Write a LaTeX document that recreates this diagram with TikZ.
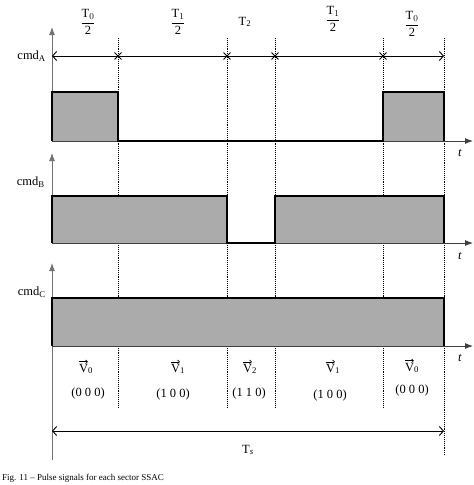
\documentclass[tikz,border=0pt]{standalone}
\usepackage{amsmath}
\usepackage{fontspec}
\setmainfont{Liberation Serif}
\usetikzlibrary{arrows.meta,shapes.misc}

\begin{document}
\begin{tikzpicture}
            [x=1pt,y=-1pt,
             every node/.style={inner sep=1pt,font=\fontsize{12.5}{14}\selectfont},
             axis/.style={draw=black!55,line width=0.9pt,-{Latex[length=8pt,width=6pt]}},
             base/.style={draw=black!75,line width=0.9pt,-{Latex[length=8pt,width=6pt]}},
             sig/.style={line width=2.2pt,line join=miter},
             pulse/.style={fill=black!33},
             grid/.style={densely dotted,line width=0.9pt},
             span/.style={line width=0.9pt,{Straight Barb[length=4pt,width=9pt]}-{Straight Barb[length=4pt,width=9pt]}},
             tick/.style={cross out,draw,line width=0.9pt,minimum size=6pt,inner sep=0pt},
             vecarrow/.style={line width=0.6pt,-{To[length=2.5pt,width=4pt]}}]
            \useasboundingbox (0,0) rectangle (474,485);
            % the time grid
            \foreach \x in {118,227,275,383}
                \draw[grid] (\x,38) -- (\x,407);
            \draw[grid] (444,38) -- (444,455);
            % the pulses
            \fill[pulse] (52,92) rectangle (118,141);
            \fill[pulse] (383,92) rectangle (444,141);
            \fill[pulse] (52,196) rectangle (227,243);
            \fill[pulse] (275,196) rectangle (444,243);
            \fill[pulse] (52,298) rectangle (444,346);
            % the axes
            \draw[axis] (52,141) -- (52,27);
            \draw[axis] (52,243) -- (52,153);
            \draw[axis] (52,460) -- (52,263);
            \draw[base] (52,141) -- (473,141);
            \draw[base] (52,243) -- (473,243);
            \draw[base] (52,346) -- (473,346);
            \node (tA) at (460,153) {\textit{t}};
            \node (tB) at (460,256) {\textit{t}};
            \node (tC) at (460,358) {\textit{t}};
            \node[anchor=east] (cmdA) at (47,56) {cmd\textsubscript{A}};
            \node[anchor=east] (cmdB) at (46,182) {cmd\textsubscript{B}};
            \node[anchor=east] (cmdC) at (47,292) {cmd\textsubscript{C}};
            % the signals
            \draw[sig] (52,141) -- (52,92) -- (118,92) -- (118,141) -- (383,141)
                -- (383,92) -- (444,92) -- (444,141);
            \draw[sig] (52,243) -- (52,196) -- (227,196) -- (227,243) -- (275,243)
                -- (275,196) -- (444,196) -- (444,243);
            \draw[sig] (52,346) -- (52,298) -- (444,298) -- (444,346);
            % the intervals
            \coordinate (s0) at (52,56);
            \node[tick] (s1) at (118,56) {};
            \node[tick] (s2) at (227,56) {};
            \node[tick] (s3) at (275,56) {};
            \node[tick] (s4) at (383,56) {};
            \coordinate (s5) at (444,56);
            \draw[span] (s0) -- (s5);
            \node (h1) at (88,22) {$\dfrac{\text{T}_0}{\text{2}}$};
            \node (h2) at (178,22) {$\dfrac{\text{T}_1}{\text{2}}$};
            \node (h3) at (245,22) {T\textsubscript{2}};
            \node (h4) at (333,19) {$\dfrac{\text{T}_1}{\text{2}}$};
            \node (h5) at (412,24) {$\dfrac{\text{T}_0}{\text{2}}$};
            % the vectors
            \node[inner sep=0pt] (v1) at (86,369) {V\textsubscript{0}};
            \node[inner sep=0pt] (v2) at (178,369) {V\textsubscript{1}};
            \node[inner sep=0pt] (v3) at (250,369) {V\textsubscript{2}};
            \node[inner sep=0pt] (v4) at (333,369) {V\textsubscript{1}};
            \node[inner sep=0pt] (v5) at (412,368) {V\textsubscript{0}};
            \foreach \v in {v1,v2,v3,v4,v5}
                \draw[vecarrow] ([xshift=0.5pt,yshift=2pt]\v.north west) -- ++(8.5pt,0);
            \node[inner sep=0pt] (c1) at (88,393) {(0 0 0)};
            \node[inner sep=0pt] (c2) at (173,394) {(1 0 0)};
            \node[inner sep=0pt] (c3) at (249,393) {(1 1 0)};
            \node[inner sep=0pt] (c4) at (330,395) {(1 0 0)};
            \node[inner sep=0pt] (c5) at (412,390) {(0 0 0)};
            % the period
            \coordinate (p0) at (52,431);
            \coordinate (p1) at (444,431);
            \draw[span] (p0) -- (p1);
            \node (Ts) at (248,450) {T\textsubscript{\textit{s}}};
            \node[anchor=south west,font=\fontsize{9}{11}\selectfont] (cap) at (1,484)
                {Fig. 11 -- Pulse signals for each sector SSAC};
        \end{tikzpicture}
\end{document}
